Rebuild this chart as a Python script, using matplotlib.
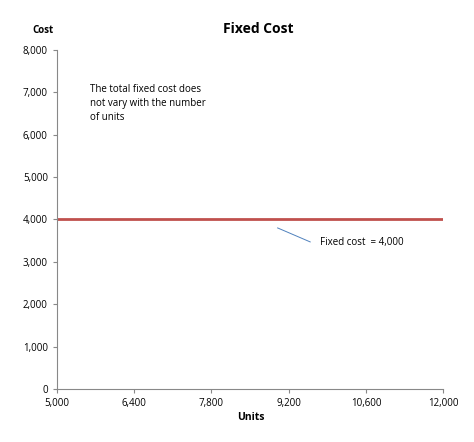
import matplotlib.pyplot as plt
from matplotlib.ticker import FuncFormatter

plt.rcParams['font.family'] = ['Open Sans', 'DejaVu Sans']

units = [5000, 12000]
fixed_cost = [4000, 4000]
x_ticks = [5000, 6400, 7800, 9200, 10600, 12000]
y_ticks = [0, 1000, 2000, 3000, 4000, 5000, 6000, 7000, 8000]

fig = plt.figure(figsize=(4.74, 4.42), dpi=100)
ax = fig.add_axes([0.120, 0.120, 0.815, 0.767])
ax.plot(units, fixed_cost, color='#c0504d', lw=2)

ax.set_xlim(5000, 12000)
ax.set_ylim(0, 8000)
ax.set_xticks(x_ticks)
ax.set_yticks(y_ticks)
fmt = FuncFormatter(lambda v, p: f'{int(v):,}')
ax.xaxis.set_major_formatter(fmt)
ax.yaxis.set_major_formatter(fmt)
ax.tick_params(labelsize=7, length=3, color='#888888')
for s in ['top', 'right']:
    ax.spines[s].set_visible(False)
for s in ['left', 'bottom']:
    ax.spines[s].set_color('#888888')

fig.text(0.545, 0.935, 'Fixed Cost', ha='center', va='center', fontsize=10, fontweight='bold')
fig.text(0.09, 0.932, 'Cost', ha='center', va='center', fontsize=7, fontweight='bold')
fig.text(0.53, 0.055, 'Units', ha='center', va='center', fontsize=7.5, fontweight='bold')

ax.text(5600, 7200, 'The total fixed cost does\nnot vary with the number\nof units',
        fontsize=7, va='top', ha='left', linespacing=1.4)
ax.plot([9000, 9590], [3800, 3470], color='#4f81bd', lw=0.7)
ax.text(9770, 3450, 'Fixed cost  = 4,000', fontsize=7, va='center', ha='left')

fig.savefig('out.png', dpi=100)
